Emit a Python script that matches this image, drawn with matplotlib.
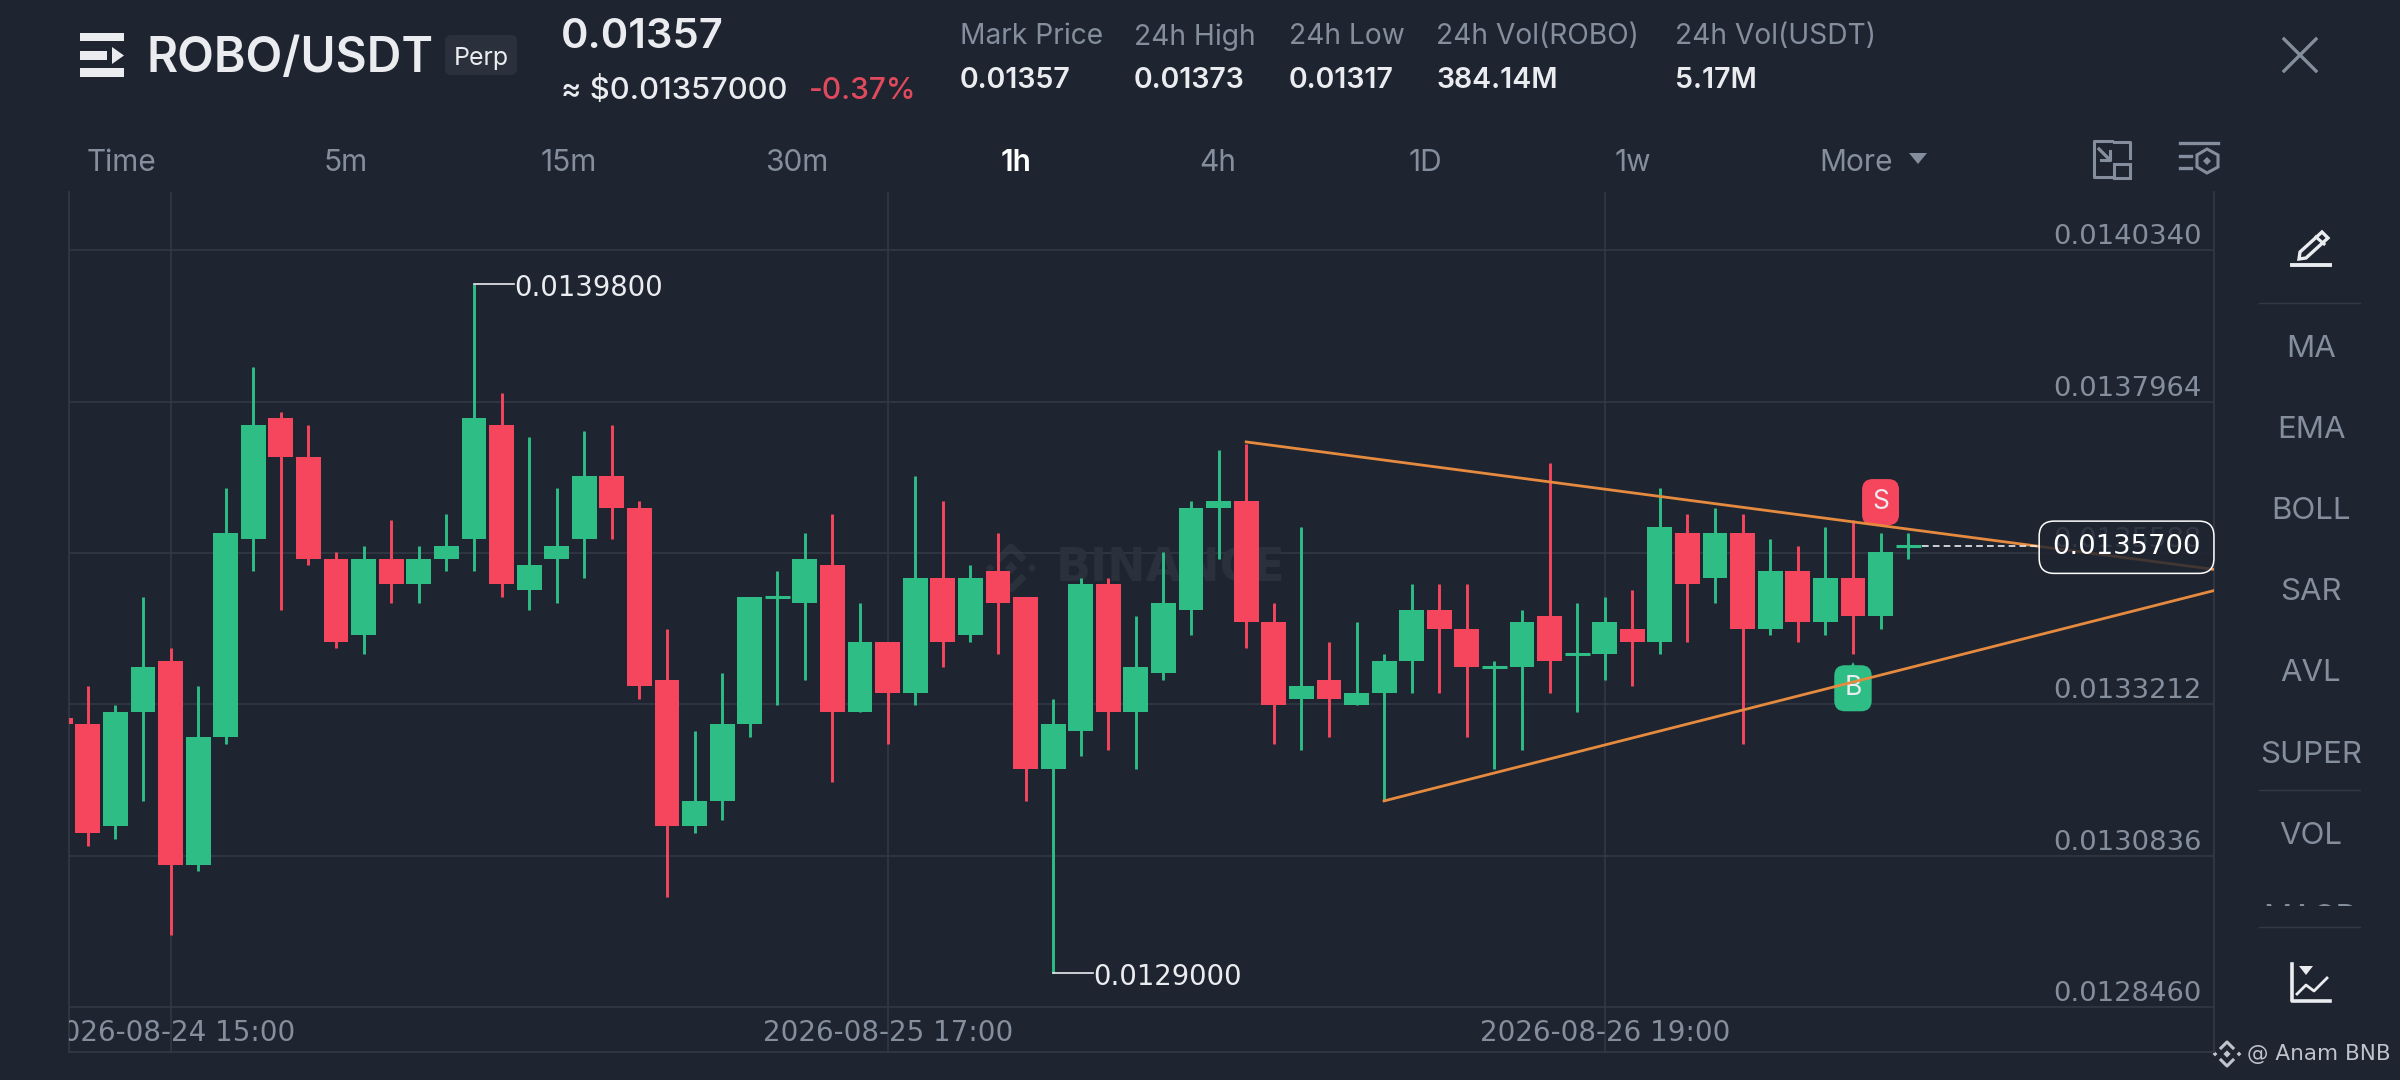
import matplotlib
matplotlib.use("Agg")
import matplotlib.pyplot as plt
from matplotlib.patches import Rectangle, FancyBboxPatch, Polygon
from matplotlib.transforms import offset_copy

plt.rcParams['font.family'] = ['Inter', 'DejaVu Sans']

# velas de 1h, precios en unidades de 0.00001
opens = [1330, 1329, 1313, 1331, 1339, 1307, 1327, 1358, 1377, 1371, 1355, 1343, 1355, 1351, 1355,
         1358, 1376, 1350, 1355, 1358, 1368, 1363, 1336, 1313, 1317, 1329, 1349, 1348, 1354, 1331,
         1342, 1334, 1352, 1343, 1353, 1349, 1322, 1328, 1351, 1331, 1337, 1347, 1363, 1364, 1345,
         1333, 1336, 1332, 1334, 1339, 1347, 1344, 1338, 1338, 1346, 1340, 1340, 1344, 1342, 1359,
         1352, 1359, 1344, 1353, 1345, 1352, 1346, 1357]
highs = [1330, 1335, 1332, 1349, 1341, 1335, 1366, 1385, 1378, 1376, 1356, 1357, 1361, 1357, 1362,
         1398, 1381, 1374, 1366, 1375, 1376, 1364, 1344, 1328, 1337, 1349, 1353, 1359, 1362, 1348,
         1342, 1368, 1364, 1354, 1359, 1349, 1333, 1352, 1352, 1346, 1356, 1364, 1372, 1373, 1348,
         1360, 1342, 1345, 1340, 1351, 1351, 1351, 1339, 1347, 1370, 1348, 1349, 1350, 1366, 1362,
         1363, 1362, 1358, 1357, 1360, 1361, 1359, 1359]
lows = [1329, 1310, 1311, 1317, 1296, 1306, 1326, 1353, 1347, 1354, 1341, 1340, 1348, 1348, 1353,
        1353, 1349, 1347, 1348, 1352, 1358, 1333, 1302, 1312, 1314, 1327, 1332, 1336, 1320, 1331,
        1326, 1332, 1338, 1342, 1340, 1317, 1290, 1324, 1325, 1322, 1336, 1343, 1355, 1341, 1326,
        1325, 1327, 1332, 1317, 1334, 1334, 1327, 1322, 1325, 1334, 1331, 1336, 1335, 1340, 1342,
        1348, 1326, 1343, 1342, 1343, 1340, 1344, 1355]
closes = [1329, 1312, 1331, 1338, 1307, 1327, 1359, 1376, 1371, 1355, 1342, 1355, 1351, 1355, 1357,
          1377, 1351, 1354, 1357, 1368, 1363, 1335, 1313, 1317, 1329, 1349, 1349, 1355, 1331, 1342,
          1334, 1352, 1342, 1352, 1348, 1322, 1329, 1351, 1331, 1338, 1348, 1363, 1364, 1345, 1332,
          1335, 1333, 1334, 1339, 1347, 1344, 1338, 1338, 1345, 1339, 1340, 1345, 1342, 1360, 1351,
          1359, 1344, 1353, 1345, 1352, 1346, 1356, 1357]
# verde aunque abra y cierre igual (doji)
doji_up = [26, 52, 55, 67]

price_ticks = [0.0140340, 0.0137964, 0.0135588, 0.0133212, 0.0130836, 0.0128460]
date_ticks = [4, 30, 56]
date_labels = ['2026-08-24 15:00', '2026-08-25 17:00', '2026-08-26 19:00']
last_price = 0.0135700

# lineas de tendencia dibujadas a mano: (indice, precio)
upper_x = [43, 78.1]
upper_y = [0.013733, 0.013533]
lower_x = [48, 78.1]
lower_y = [0.01317, 0.01350]

intervals = ['Time', '5m', '15m', '30m', '1h', '4h', '1D', '1w', 'More']
interval_x = [121, 346, 569, 797, 1016, 1218, 1425, 1633, 1856]
stat_names = ['Mark Price', '24h High', '24h Low', '24h Vol(ROBO)', '24h Vol(USDT)']
stat_values = ['0.01357', '0.01373', '0.01317', '384.14M', '5.17M']
stat_x = [960, 1134, 1289, 1436, 1675]
indicators = ['MA', 'EMA', 'BOLL', 'SAR', 'AVL', 'SUPER', 'VOL']
indicator_y = [349, 430, 511, 592, 673, 755, 836]

BG = '#1E2430'
GRID = '#343A45'
GREEN = '#2EBD85'
RED = '#F6465D'
GRAY = '#848E9C'
WHITE = '#EAECEF'
ORANGE = '#E58A3E'
MARK = '#2A313D'
WIDE = ['DejaVu Sans']


def px_axes(left, top, right, bottom, **kw):
    return fig.add_axes([left / 2400, 1 - bottom / 1080, (right - left) / 2400, (bottom - top) / 1080], **kw)


def binance_logo(a, cx, cy, s, color, lw, zorder=1):
    # logo aproximado: chevrones, puntos y rombo central
    a.plot([cx - s * 0.5, cx, cx + s * 0.5], [cy - s * 0.5, cy - s, cy - s * 0.5], color=color, lw=lw, zorder=zorder)
    a.plot([cx - s * 0.5, cx, cx + s * 0.5], [cy + s * 0.5, cy + s, cy + s * 0.5], color=color, lw=lw, zorder=zorder)
    a.add_patch(Polygon([[cx, cy - s * 0.3], [cx + s * 0.3, cy], [cx, cy + s * 0.3], [cx - s * 0.3, cy]],
                        color=color, lw=0, zorder=zorder))
    for dx in (-s, s):
        a.add_patch(Polygon([[cx + dx, cy - s * 0.2], [cx + dx + s * 0.2, cy], [cx + dx, cy + s * 0.2],
                             [cx + dx - s * 0.2, cy]], color=color, lw=0, zorder=zorder))


fig = plt.figure(figsize=(24, 10.8), dpi=100, facecolor=BG)

# grafico de velas
ax = px_axes(69, 192, 2214, 1052, facecolor='none')
ax.set_zorder(2)
ax.set_xlim(0.318, 78.09)
ax.set_ylim(0.0127762, 0.01412497)
ax.spines['top'].set_visible(False)
for side in ('left', 'right', 'bottom'):
    ax.spines[side].set_color(GRID)
    ax.spines[side].set_linewidth(1.2)
ax.set_axisbelow(True)
ax.set_xticks(date_ticks)
ax.set_xticklabels([])
ax.yaxis.tick_right()
ax.set_yticks(price_ticks)
ax.set_yticklabels(['%.7f' % p for p in price_ticks])
ax.tick_params(axis='both', length=0)
ax.tick_params(axis='y', pad=-9, labelsize=19.7, labelcolor=GRAY)
for lab in ax.get_yticklabels():
    lab.set_horizontalalignment('right')
    lab.set_verticalalignment('bottom')
    lab.set_family(WIDE)
ax.grid(True, color=GRID, lw=1.1)

for d, lab in zip(date_ticks, date_labels):
    ax.text(d, 0.0127762 + 0.00003, lab, ha='center', va='center', fontsize=20, color=GRAY,
            family=WIDE, clip_on=True)

# marca de agua
ax.text(36.1, 0.013534, 'BINANCE', fontsize=33, fontweight='bold', color=MARK, ha='left', va='center',
        family=WIDE, zorder=1)

for i in range(len(opens)):
    o, h, l, c = [v / 100000 for v in (opens[i], highs[i], lows[i], closes[i])]
    up = closes[i] > opens[i] or i in doji_up
    col = GREEN if up else RED
    ax.vlines(i, l, h, color=col, lw=2.1, zorder=3)
    if opens[i] == closes[i]:
        ax.hlines(o, i - 0.45, i + 0.45, color=col, lw=2.2, zorder=3)
    else:
        ax.bar(i, abs(c - o), bottom=min(o, c), width=0.9, color=col, lw=0, zorder=3)

# maximo y minimo
i_hi = highs.index(max(highs))
i_lo = lows.index(min(lows))
tr_txt = offset_copy(ax.transData, fig=fig, x=0, y=-4, units='dots')
for idx, val in ((i_hi, max(highs) / 100000), (i_lo, min(lows) / 100000)):
    ax.plot([idx, idx + 1.45], [val, val], color=WHITE, lw=1.2, zorder=4)
    ax.text(idx + 1.47, val, '%.7f' % val, color=WHITE, fontsize=19.8, va='center', ha='left', family=WIDE,
            transform=tr_txt, zorder=4)

# marcas de compra / venta
tr_s = offset_copy(ax.transData, fig=fig, x=0, y=31, units='dots')
tr_b = offset_copy(ax.transData, fig=fig, x=0, y=-34, units='dots')
tr_st = offset_copy(ax.transData, fig=fig, x=0, y=11, units='dots')
tr_bt = offset_copy(ax.transData, fig=fig, x=0, y=-12, units='dots')
ax.plot(66, highs[66] / 100000, 'v', color=RED, ms=6, mew=0, transform=tr_st, zorder=4)
ax.plot(65, lows[65] / 100000, '^', color=GREEN, ms=6, mew=0, transform=tr_bt, zorder=4)
ax.text(66, highs[66] / 100000, 'S', transform=tr_s, color=WHITE, fontsize=19, ha='center', va='center', zorder=4,
        bbox=dict(boxstyle='round,pad=0.38,rounding_size=0.4', fc=RED, ec='none'))
ax.text(65, lows[65] / 100000, 'B', transform=tr_b, color=WHITE, fontsize=19, ha='center', va='center', zorder=4,
        bbox=dict(boxstyle='round,pad=0.38,rounding_size=0.4', fc=GREEN, ec='none'))

ax.plot(upper_x, upper_y, color=ORANGE, lw=2, zorder=5)
ax.plot(lower_x, lower_y, color=ORANGE, lw=2, zorder=5)

# precio actual
ax.plot([67.5, 71.7], [last_price, last_price], color=WHITE, lw=1.2, dashes=(4, 2.5), zorder=5)
ax.annotate('%.7f' % last_price, xy=(1, last_price), xycoords=ax.get_yaxis_transform(), xytext=(-9.5, -1),
            textcoords='offset points', ha='right', va='center', fontsize=19.7, color='white', zorder=6,
            family=WIDE, annotation_clip=False,
            bbox=dict(boxstyle='round,pad=0.48,rounding_size=0.55', fc=(0.118, 0.141, 0.188, 0.82), ec='white', lw=1.1))

# capa de la interfaz en pixeles, debajo de las velas
ui = px_axes(0, 0, 2400, 1080)
ui.set_zorder(1)
ui.set_xlim(0, 2400)
ui.set_ylim(1080, 0)
ui.axis('off')

binance_logo(ui, 1011, 568, 21, MARK, 5)

# icono de menu
ui.add_patch(Rectangle((80, 33), 44, 8, color=WHITE, lw=0))
ui.add_patch(Rectangle((80, 51), 27, 9, color=WHITE, lw=0))
ui.add_patch(Polygon([[112, 47], [124, 55.5], [112, 64]], color=WHITE, lw=0))
ui.add_patch(Rectangle((80, 68), 44, 9, color=WHITE, lw=0))

ui.text(146, 59, 'ROBO/USDT', fontsize=34.5, fontweight='semibold', color=WHITE, va='center', ha='left')
ui.add_patch(FancyBboxPatch((449, 39), 64, 32, boxstyle='round,pad=4,rounding_size=6', fc='#2B313C', ec='none'))
ui.text(481, 58, 'Perp', fontsize=18, color=WHITE, va='center', ha='center')

ui.text(561, 37, '0.01357', fontsize=30, fontweight='semibold', color=WHITE, va='center', ha='left')
ui.text(561, 91, '≈ $0.01357000', fontsize=22.2, fontweight='medium', color=WHITE, va='center', ha='left')
ui.text(809, 91, '-0.37%', fontsize=21.5, fontweight='medium', color='#E04A5C', va='center', ha='left')

for x, name, val in zip(stat_x, stat_names, stat_values):
    ui.text(x, 37, name, fontsize=20.3, color=GRAY, va='center', ha='left')
    ui.text(x, 81, val, fontsize=20.5, fontweight='semibold', color=WHITE, va='center', ha='left')

for x, lab in zip(interval_x, intervals):
    active = lab == '1h'
    ui.text(x, 163, lab, fontsize=21.5, color='white' if active else GRAY,
            fontweight='semibold' if active else 'normal', va='center', ha='center')
ui.add_patch(Polygon([[1909, 153], [1927, 153], [1918, 164]], color=GRAY, lw=0))

# cerrar
ui.plot([2284, 2316], [39, 71], color=GRAY, lw=2.4)
ui.plot([2284, 2316], [71, 39], color=GRAY, lw=2.4)

# iconos de la barra de intervalos
ui.plot([2114, 2130, 2130, 2130], [142, 142, 142, 158], color=GRAY, lw=2.2)
ui.plot([2112, 2094, 2094, 2112], [141, 141, 177, 177], color=GRAY, lw=2.2)
ui.add_patch(Rectangle((2114, 164), 16, 14, fc='none', ec=GRAY, lw=2.2))
ui.plot([2099, 2110], [149, 160], color=GRAY, lw=2.4)
ui.plot([2101, 2110, 2110], [160, 160, 151], color=GRAY, lw=2.2)
ui.plot([2180, 2218], [143, 143], color=GRAY, lw=2.4)
ui.plot([2180, 2191], [156, 156], color=GRAY, lw=2.4)
ui.plot([2180, 2191], [168, 168], color=GRAY, lw=2.4)
ui.add_patch(Polygon([[2207, 149], [2218, 155], [2218, 167], [2207, 173], [2197, 167], [2197, 155]],
                     fc='none', ec=GRAY, lw=2.2))
ui.add_patch(Polygon([[2207, 157], [2211, 161], [2207, 165], [2203, 161]], color=GRAY, lw=0))

# lapiz
ui.add_patch(Polygon([[2322, 232], [2328, 238], [2306, 258], [2299, 259], [2300, 252]], fc='none', ec=WHITE, lw=2.4))
ui.plot([2316, 2324], [237, 244], color=WHITE, lw=2.2)
ui.plot([2292, 2330], [265, 265], color=WHITE, lw=2.8)

# panel de indicadores
for y, lab in zip(indicator_y, indicators):
    ui.text(2311, y, lab, fontsize=22.5, color=GRAY, va='center', ha='center')
macd = ui.text(2311, 918, 'MACD', fontsize=22.5, color=GRAY, va='center', ha='center', clip_on=True)
macd.set_clip_path(Rectangle((2250, 860), 120, 46, transform=ui.transData))
for y in (303, 790, 927):
    ui.plot([2259, 2360], [y, y], color=GRID, lw=1)

# icono de grafico
ui.plot([2292, 2292, 2330], [964, 1001, 1001], color=WHITE, lw=2.6)
ui.plot([2297, 2306, 2314, 2327], [994, 985, 991, 978], color=WHITE, lw=2)
ui.add_patch(Polygon([[2299, 966], [2313, 966], [2306, 975]], color=WHITE, lw=0))

# firma
binance_logo(ui, 2227, 1054, 12, '#BFC4CC', 2.2, zorder=3)
ui.text(2247, 1054, '@ Anam BNB', fontsize=15.5, color='#BFC4CC', va='center', ha='left', family=WIDE)

fig.savefig('out.png', dpi=100, facecolor=BG)
